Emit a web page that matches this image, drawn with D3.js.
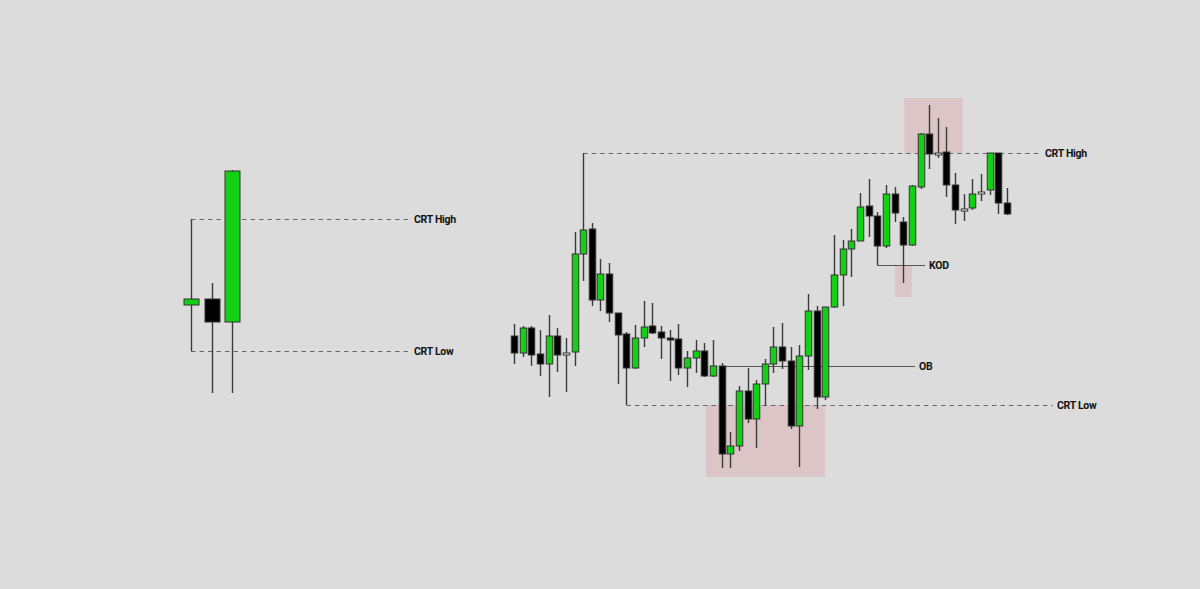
<!DOCTYPE html>
<meta charset="utf-8">
<html>
<style>
body { margin: 0; background: #dcdcdc; }
svg { display: block; }
.lbl { font-family: Roboto, "Liberation Sans", sans-serif; font-weight: 700; font-size: 10.5px; letter-spacing: -0.3px; fill: #111; }
</style>
<body>
<script src="https://cdn.jsdelivr.net/npm/d3@7"></script>
<script>
var width = 1200, height = 589;

// left example: three candles [open, high, low, close]
var leftOpen  = [175, 181, 158];
var leftHigh  = [261, 197, 310];
var leftLow   = [129,  87,  87];
var leftClose = [181, 158, 309];

// main chart prices (58 candles)
var open  = [144,127,152,126,116,144,127,128,226,251,180,206,167,146,112,142,154,148,142,141,112,122,129,104,114, 26, 34, 89, 61, 96,116,133,119, 54,124,169, 83,173,205,231,239,274,264,234,286,258,235,293,346,327,328,295,271,272,288,290,327,277];
var high  = [156,154,154,150,165,152,142,248,327,257,221,217,167,148,155,179,177,154,150,156,129,140,137,140,117, 48, 94,112,100,121,153,157,133,135,186,174,173,245,240,251,287,301,268,295,293,263,295,347,375,362,353,307,286,301,306,327,327,292];
var low   = [116,123,114,104, 83,108, 88,114,199,174,169,158, 96, 75,111,133,146,121, 99,105, 93,107,103,103, 12, 12, 29, 57, 32, 74,107,111, 51, 13,110, 71, 80,172,174,203,239,243,215,232,258,197,234,291,311,322,283,256,259,270,279,285,266,265];
var close = [127,152,125,116,144,125,127,226,250,180,206,167,145,112,142,153,147,142,140,112,122,129,104,114, 26, 34, 89, 61, 96,116,133,119, 54,124,169, 83,173,205,231,239,273,264,234,286,267,235,294,346,326,327,295,270,271,286,288,327,277,266];

// annotation levels
var crtHighLeft = 261, crtLowLeft = 129;
var crtHigh = 327, crtLow = 75, obLevel = 114, kodLevel = 215;

// shaded zones: [from index, to index, top price, bottom price]
var zones = [
  [22.2, 35.95, 75, 3],
  [45.1, 51.9, 382, 327],
  [44.05, 46.0, 215, 183]
];

var svg = d3.select("body").append("svg")
    .attr("width", width)
    .attr("height", height);

svg.append("rect").attr("width", width).attr("height", height).attr("fill", "#dcdcdc");

// shared price scale
var y = d3.scaleLinear().domain([0, 400]).range([480, 80]);
var x = d3.scaleLinear().domain([0, 57]).range([514, 1007]);
var xl = d3.scaleLinear().domain([0, 2]).range([191, 232]);

var GREEN = "#14d014";

function candles(g, xs, o, h, l, c, bw) {
  var data = o.map(function(v, i) { return {i: i, o: v, h: h[i], l: l[i], c: c[i]}; });
  g.selectAll(".wick").data(data).enter().append("line")
    .attr("x1", d => Math.round(xs(d.i)) + 0.5)
    .attr("x2", d => Math.round(xs(d.i)) + 0.5)
    .attr("y1", d => y(d.h))
    .attr("y2", d => y(d.l))
    .attr("stroke", "#3a3a3a")
    .attr("stroke-width", 1.4);
  g.selectAll(".body").data(data).enter().append("rect")
    .attr("x", d => Math.round(xs(d.i)) + 0.5 - bw / 2)
    .attr("y", d => y(Math.max(d.o, d.c)))
    .attr("width", bw)
    .attr("height", d => Math.max(Math.abs(y(d.o) - y(d.c)), 2))
    .attr("fill", function(d) {
      if (d.c > d.o) return GREEN;
      if (d.c < d.o) return "#000";
      return "#fff";
    })
    .attr("stroke", "#333")
    .attr("stroke-width", 1);
}

// zones behind everything
svg.selectAll(".zone").data(zones).enter().append("rect")
  .attr("x", d => x(d[0]))
  .attr("width", d => x(d[1]) - x(d[0]))
  .attr("y", d => y(d[2]))
  .attr("height", d => y(d[3]) - y(d[2]))
  .attr("fill", "#dcc5c7");

// level lines with labels
function level(x0, x1, price, text, dashed) {
  svg.append("line")
    .attr("x1", x0).attr("x2", x1)
    .attr("y1", Math.round(y(price)) + 0.5).attr("y2", Math.round(y(price)) + 0.5)
    .attr("stroke", dashed ? "#666" : "#555")
    .attr("stroke-width", dashed ? 1.2 : 1)
    .attr("stroke-dasharray", dashed ? "4.5,4" : null);
  svg.append("text").attr("class", "lbl")
    .attr("x", x1 + 4)
    .attr("y", y(price))
    .attr("dy", "0.35em")
    .text(text);
}

level(xl(0), 410, crtHighLeft, "CRT High", true);
level(xl(0), 410, crtLowLeft, "CRT Low", true);
level(x(8), 1041, crtHigh, "CRT High", true);
level(x(13), 1053, crtLow, "CRT Low", true);
level(x(24), 915, obLevel, "OB", false);
level(x(42), 925, kodLevel, "KOD", false);

candles(svg.append("g"), xl, leftOpen, leftHigh, leftLow, leftClose, 15);
candles(svg.append("g"), x, open, high, low, close, 6.5);
</script>
</body>
</html>
